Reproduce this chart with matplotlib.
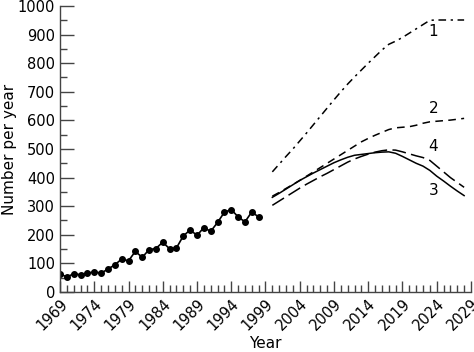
import matplotlib
matplotlib.use("Agg")
import matplotlib.pyplot as plt
from matplotlib.ticker import MultipleLocator

# observed numbers per year
obs_years = list(range(1969, 1999))
obs_values = [64, 52, 64, 60, 66, 70, 66, 80, 95, 115,
              109, 142, 121, 148, 152, 174, 151, 154, 196, 217,
              198, 225, 212, 243, 279, 288, 263, 245, 280, 262]

# projections
proj_years = list(range(2000, 2029))
proj_1 = [420, 447, 474, 500, 528, 556, 585, 614, 643, 672,
          700, 727, 752, 776, 800, 823, 846, 866, 877, 890,
          905, 920, 935, 950, 951, 951, 951, 951, 951]
proj_2 = [335, 348, 362, 376, 390, 405, 420, 435, 450, 465,
          480, 495, 510, 525, 537, 548, 558, 568, 574, 576,
          578, 583, 590, 595, 597, 599, 601, 604, 607]
proj_3 = [331, 345, 360, 375, 390, 403, 416, 428, 440, 452,
          462, 471, 478, 481, 484, 487, 489, 490, 485, 474,
          462, 450, 440, 425, 405, 388, 370, 353, 337]
proj_4 = [303, 318, 333, 348, 363, 377, 390, 403, 415, 428,
          441, 454, 465, 474, 482, 489, 494, 497, 496, 490,
          483, 476, 470, 460, 440, 420, 400, 383, 366]

labels = ["1", "2", "3", "4"]
label_pos = [(2023.5, 910), (2023.5, 643), (2023.5, 354), (2023.5, 507)]

fig = plt.figure(figsize=(4.74, 3.52), dpi=100)
ax = fig.add_axes([0.1266, 0.1705, 0.867, 0.8125])

ax.plot(obs_years, obs_values, color="black", lw=1.2, marker="o", ms=4)
ax.plot(proj_years, proj_1, color="black", lw=1.1, dashes=(5, 3, 1.5, 3))
ax.plot(proj_years, proj_2, color="black", lw=1.1, dashes=(5, 3.5))
ax.plot(proj_years, proj_3, color="black", lw=1.1)
ax.plot(proj_years, proj_4, color="black", lw=1.1, dashes=(9, 3.5))

for lab, (x, y) in zip(labels, label_pos):
    ax.text(x, y, lab, fontsize=11, ha="center", va="center")

ax.set_xlim(1969, 2029)
ax.set_ylim(0, 1000)
ax.xaxis.set_major_locator(MultipleLocator(5))
ax.xaxis.set_minor_locator(MultipleLocator(1))
ax.yaxis.set_major_locator(MultipleLocator(100))
ax.yaxis.set_minor_locator(MultipleLocator(50))
ax.set_xticks(range(1969, 2030, 5))
ax.set_xticklabels([str(y) for y in range(1969, 2030, 5)], rotation=45,
                   ha="right", rotation_mode="anchor")

for side in ["top", "right"]:
    ax.spines[side].set_visible(False)
for side in ["left", "bottom"]:
    ax.spines[side].set_color("#444444")
    ax.spines[side].set_linewidth(1.0)

ax.tick_params(which="major", direction="in", length=10, width=1.0,
               color="#444444", labelsize=10.5)
ax.tick_params(axis="x", which="major", length=8, pad=3)
ax.tick_params(which="minor", direction="in", length=5, width=1.0,
               color="#444444")

ax.set_xlabel("Year", fontsize=11, labelpad=2)
ax.set_ylabel("Number per year", fontsize=11)
ax.yaxis.set_label_coords(-0.104, 0.5)

fig.savefig("out.png", dpi=100)
